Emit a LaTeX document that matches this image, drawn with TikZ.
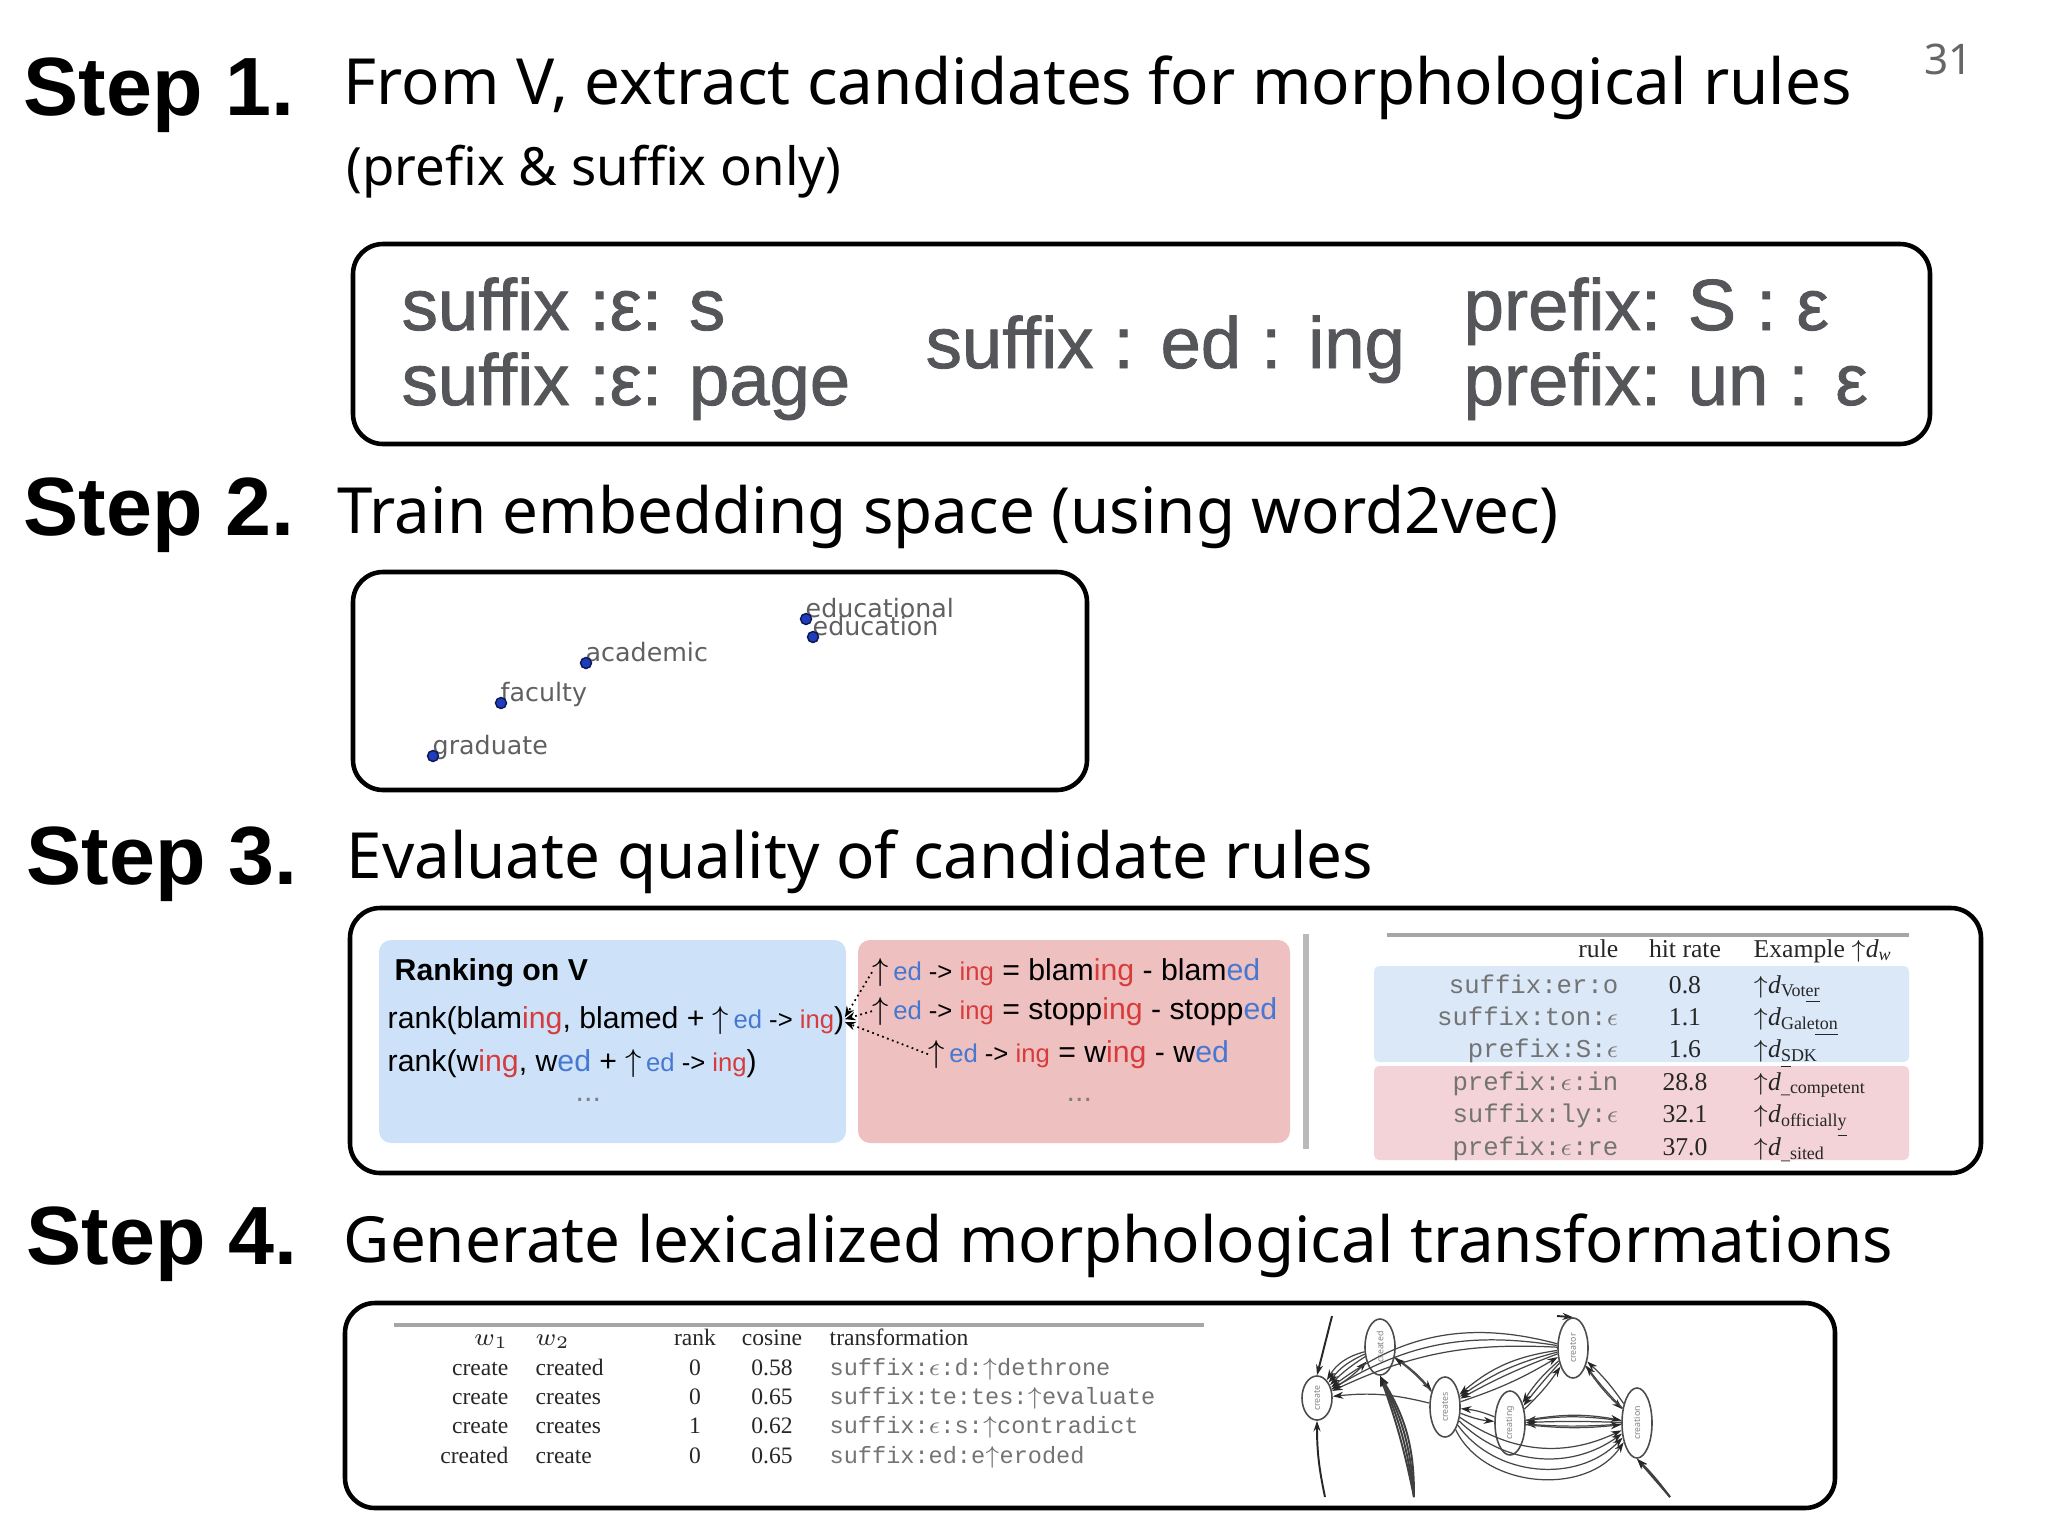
\documentclass[tikz,border=0pt]{standalone}
\usepackage{fontspec}
\setmainfont{Noto Sans}
\newfontfamily\boxfont{Liberation Sans}
\newfontfamily\rulefont{Liberation Sans}[FakeBold=1.2]
\newfontfamily\tabserif{Liberation Serif}
\newfontfamily\tabmono{Liberation Mono}
\newfontfamily\plotfont{DejaVu Sans}
\usetikzlibrary{shapes.geometric, arrows.meta, positioning, calc}
\definecolor{clrTxt} {RGB}{ 85, 86, 90}
\definecolor{clrEd}  {RGB}{ 70,120,210}
\definecolor{clrIng} {RGB}{215, 60, 60}
\definecolor{rankbg} {RGB}{205,226,248}
\definecolor{pairbg} {RGB}{238,192,192}
\definecolor{bandB}  {RGB}{218,232,248}
\definecolor{bandR}  {RGB}{243,211,215}
\definecolor{dotclr} {RGB}{ 30, 60,190}
\newcommand{\sfxEd}{\textcolor{clrEd}{ed}}
\newcommand{\sfxIng}{\textcolor{clrIng}{ing}}
\newcommand{\edtoing}{$\uparrow${\fontsize{7.3}{8}\selectfont\,\textcolor{clrEd}{ed} -> \textcolor{clrIng}{ing}}}
\tikzset{
  steplbl/.style={anchor=base west, inner sep=0pt, font=\boxfont\fontsize{23.5}{28}\selectfont\bfseries},
  ttl/.style={anchor=base west, inner sep=0pt, font=\fontsize{18.1}{22}\selectfont},
  stepframe/.style={draw=black, line width=1.3pt, rounded corners=0.3cm},
  rulelbl/.style={anchor=base west, inner sep=0pt, font=\rulefont\fontsize{20.6}{25}\selectfont, text=clrTxt},
  wlbl/.style={anchor=base west, inner sep=0pt, font=\plotfont\fontsize{7.2}{8}\selectfont, text=gray!75!black},
  wdot/.style={circle, fill=dotclr, draw=dotclr!40!black, line width=0.4pt, inner sep=0pt, minimum size=0.11cm},
  pnl/.style={anchor=base west, inner sep=0pt, font=\boxfont\fontsize{8.6}{10}\selectfont},
  dotarr/.style={-{Stealth[length=3pt,width=2.4pt]}, densely dotted, line width=0.5pt},
  tserif/.style={inner sep=0pt, font=\tabserif\fontsize{7.3}{8}\selectfont, text=black!85},
  tmono/.style={inner sep=0pt, font=\tabmono\fontsize{7.3}{8}\selectfont, text=gray!90!black},
  small4/.style={font=\tabserif\fontsize{6.7}{8}\selectfont},
  gnode/.style={ellipse, draw=gray!60!black, line width=0.45pt, inner sep=0pt, minimum width=0.3cm,
    font=\fontsize{2.5}{3}\selectfont, text=gray},
  gedge/.style={-{Stealth[length=3pt,width=2pt,color=black!85]}, gray!55!black, line width=0.35pt},
  gext/.style={-{Stealth[length=3pt,width=2pt,color=black!85]}, gray!30!black, line width=0.55pt},
}
\begin{document}
\begin{tikzpicture}[x=0.01cm, y=-0.01cm]
\useasboundingbox (0,0) rectangle (2048,1536);
\node[anchor=base west, inner sep=0pt, font=\fontsize{12}{14}\selectfont, text=gray!80!black] (pgno) at (1924,74) {31};

% step 1
\node[steplbl] (s1) at (23,115) {Step 1.};
\node[ttl] (t1) at (343,104) {From V, extract candidates for morphological rules};
\node[anchor=base west, inner sep=0pt, font=\fontsize{15}{18}\selectfont] (t1b) at (346,185) {(prefix \& suffix only)};
\draw[stepframe] (353,244) rectangle (1930,444);
\node[rulelbl] (c1) at (401,330) {suffix :ε: s};
\node[rulelbl] (c2) at (401,405) {suffix :ε: page};
\node[rulelbl] (c3) at (925,368) {suffix : ed : ing};
\node[rulelbl] (c4) at (1463,330) {prefix: S : ε};
\node[rulelbl] (c5) at (1463,405) {prefix: un : ε};

% step 2
\node[steplbl] (s2) at (23,535) {Step 2.};
\node[ttl] (t2) at (337,533) {Train embedding space (using word2vec)};
\draw[stepframe] (353,572) rectangle (1087,790);
\foreach \nm/\px/\py/\wrd in {edul/806/619/educational, edu/813/637/education,
    acad/586/663/academic, fac/501/703/faculty, grad/433/756/graduate} {
  \coordinate (c-\nm) at (\px,\py);
  \node[wlbl] (t-\nm) at ([xshift=-0.01cm, yshift=0.02cm]c-\nm) {\wrd};
  \node[wdot] (d-\nm) at (c-\nm) {};
}

% step 3
\node[steplbl] (s3) at (26,884) {Step 3.};
\node[ttl] (t3) at (346,878) {Evaluate quality of candidate rules};
\draw[stepframe] (350,908) rectangle (1981,1173);
\fill[rankbg, rounded corners=0.12cm] (379,940) rectangle (846,1143);
\fill[pairbg, rounded corners=0.12cm] (858,940) rectangle (1290,1143);
\node[pnl, font=\boxfont\fontsize{8.6}{10}\selectfont\bfseries] (rk0) at (394,980) {Ranking on V};
\node[pnl] (rk1) at (387,1028) {rank(blam\sfxIng, blamed + \edtoing)};
\node[pnl] (rk2) at (387,1071) {rank(w\sfxIng, w\sfxEd{} + \edtoing)};
\node[pnl, text=gray] (rk3) at (575,1101) {...};
\node[pnl] (r1) at (872,980) {\edtoing{} = blam\sfxIng{} - blam\sfxEd};
\node[pnl] (r2) at (872,1019) {\edtoing{} = stopp\sfxIng{} - stopp\sfxEd};
\node[pnl] (r3) at (928,1062) {\edtoing{} = w\sfxIng{} - w\sfxEd};
\node[pnl, text=gray] (r4) at (1066,1101) {...};
\draw[dotarr] (r1.west) -- ([yshift=0.03cm]rk1.east);
\draw[dotarr] (r2.west) -- ([yshift=0.01cm]rk1.east);
\draw[dotarr] (r3.west) -- ([yshift=-0.02cm]rk1.east);
\draw[gray!55, line width=1.5pt] (1306,934) -- (1306,1149);
% rule table
\draw[gray!70, line width=1.2pt] (1387,935) -- (1909,935);
\fill[bandB, rounded corners=0.05cm] (1374,966) rectangle (1909,1062);
\fill[bandR, rounded corners=0.05cm] (1374,1066) rectangle (1909,1160);
\node[tserif, anchor=base east] (h1) at (1619,957) {rule};
\node[tserif, anchor=base] (h2) at (1685,957) {hit rate};
\node[tserif, anchor=base west] (h3) at (1753,957) {Example $\uparrow$\textit{d}\textsubscript{\textit{w}}};
\foreach \rul/\hit/\exm [count=\i] in {suffix:er:o/0.8/{Vot\underline{er}},
    suffix:ton:$\epsilon$/1.1/{Gale\underline{ton}}, prefix:S:$\epsilon$/1.6/{\underline{S}DK},
    prefix:$\epsilon$:in/28.8/{\_competent}, suffix:ly:$\epsilon$/32.1/{officiall\underline{y}},
    prefix:$\epsilon$:re/37.0/{\_sited}} {
  \node[tmono, anchor=base east] (ru\i) at (1619,{993+(\i-1)*32.4}) {\rul};
  \node[tserif, anchor=base] (hr\i) at (1685,{993+(\i-1)*32.4}) {\hit};
  \node[tserif, anchor=base west] (ex\i) at (1753,{993+(\i-1)*32.4}) {$\uparrow$\textit{d}\textsubscript{\exm}};
}

% step 4
\node[steplbl] (s4) at (26,1264) {Step 4.};
\node[ttl] (t4) at (343,1262) {Generate lexicalized morphological transformations};
\draw[stepframe] (345,1303) rectangle (1835,1508);
\draw[gray!70, line width=1.2pt] (394,1325) -- (1204,1325);
\node[tserif, small4, anchor=base east] (w1) at (509,1345) {$w_1$};
\node[tserif, small4, anchor=base west] (w2) at (535,1345) {$w_2$};
\node[tserif, small4, anchor=base] (rk) at (695,1345) {rank};
\node[tserif, small4, anchor=base] (cs) at (772,1345) {cosine};
\node[tserif, small4, anchor=base west] (tf) at (829,1345) {transformation};
\foreach \wa/\wb/\rnk/\csn/\trf [count=\i] in {create/created/0/0.58/{suffix:$\epsilon$:d:$\uparrow$dethrone},
    create/creates/0/0.65/{suffix:te:tes:$\uparrow$evaluate},
    create/creates/1/0.62/{suffix:$\epsilon$:s:$\uparrow$contradict},
    created/create/0/0.65/{suffix:ed:e$\uparrow$eroded}} {
  \node[tserif, small4, anchor=base east] (wa\i) at (509,{1375+(\i-1)*29.4}) {\wa};
  \node[tserif, small4, anchor=base west] (wb\i) at (535,{1375+(\i-1)*29.4}) {\wb};
  \node[tserif, small4, anchor=base] (rn\i) at (695,{1375+(\i-1)*29.4}) {\rnk};
  \node[tserif, small4, anchor=base] (co\i) at (772,{1375+(\i-1)*29.4}) {\csn};
  \node[tmono, font=\tabmono\fontsize{6.7}{8}\selectfont, anchor=base west] (tr\i) at (829,{1375+(\i-1)*29.4}) {\trf};
}
% word graph
\node[gnode, minimum height=0.44cm] (g1) at (1317,1398) {\rotatebox{90}{create}};
\node[gnode, minimum height=0.56cm] (g2) at (1380,1347) {\rotatebox{90}{created}};
\node[gnode, minimum height=0.60cm] (g3) at (1445,1407) {\rotatebox{90}{creates}};
\node[gnode, minimum height=0.64cm] (g4) at (1510,1423) {\rotatebox{90}{creating}};
\node[gnode, minimum height=0.60cm] (g5) at (1573,1348) {\rotatebox{90}{creator}};
\node[gnode, minimum height=0.70cm] (g6) at (1637,1423) {\rotatebox{90}{creation}};
\foreach \ga/\gb/\k in {g2/g1/6, g2/g1/14, g2/g1/22, g1/g2/8, g5/g1/14, g5/g1/20, g5/g1/26,
    g3/g1/10, g2/g3/-8, g3/g2/6, g5/g3/4, g5/g3/10, g5/g3/16, g3/g5/6, g5/g4/2, g5/g4/8, g4/g5/6,
    g4/g3/8, g3/g4/8, g6/g4/2, g6/g4/8, g6/g4/-4, g4/g6/6, g4/g6/-10,
    g3/g6/30, g3/g6/40, g3/g6/50, g3/g6/60, g6/g5/6, g5/g6/6, g6/g5/-4} {
  \draw[gedge] (\ga) to[bend right=\k] (\gb);
}
\coordinate (e1) at (1332,1316);
\coordinate (e2) at (1325,1497);
\coordinate (e3) at (1414,1497);
\coordinate (e4) at (1557,1316);
\coordinate (e5) at (1670,1497);
\draw[gext] (e1) -- (g1.north);
\draw[gext] (e2) to[bend left=6] (g1.south);
\foreach \k in {4,8,12,16} { \draw[gext, gray!50!black] (e3) to[bend right=\k] (g2.south); }
\draw[gext] (e4) -- (g5.north);
\foreach \k in {0,4} { \draw[gext, gray!50!black] (e5) to[bend right=\k] (g6.south); }
\end{tikzpicture}
\end{document}
